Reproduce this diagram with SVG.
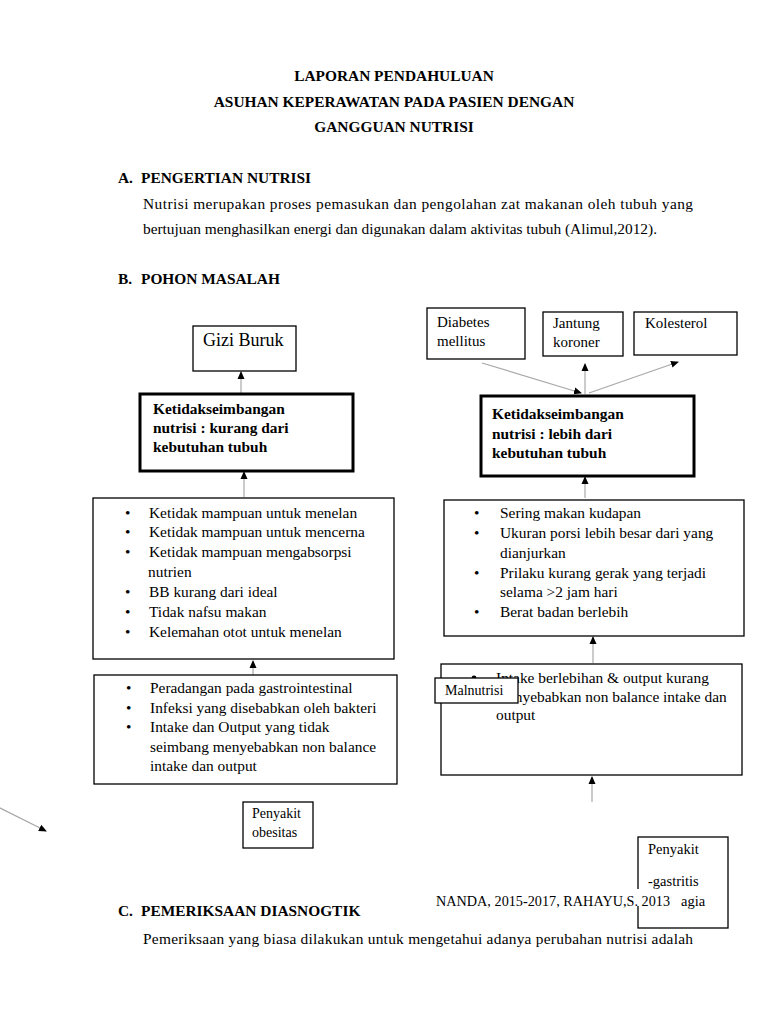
<svg xmlns="http://www.w3.org/2000/svg" width="768" height="1024" viewBox="0 0 768 1024">
<style>
.t{font-family:"Liberation Serif","Times New Roman",serif;font-size:15.4px;fill:#000}
.b{font-weight:bold}
.box{fill:#fff;stroke:#000;stroke-width:1.3}
.thick{fill:#fff;stroke:#000;stroke-width:3}
.conn{stroke:#a8a8a8;stroke-width:1.2;fill:none;marker-end:url(#ah)}
</style>
<defs>
<marker id="ah" markerWidth="8" markerHeight="8" refX="7" refY="4" orient="auto" markerUnits="userSpaceOnUse"><path d="M0,0.5 L8,4 L0,7.5 z" fill="#000"/></marker>
</defs>
<rect width="768" height="1024" fill="#fff"/>

<g id="header">
<text class="t b" x="394" y="81" text-anchor="middle">LAPORAN PENDAHULUAN</text>
<text class="t b" x="394" y="107" text-anchor="middle">ASUHAN KEPERAWATAN PADA PASIEN DENGAN</text>
<text class="t b" x="394" y="132" text-anchor="middle">GANGGUAN NUTRISI</text>
</g>

<g id="section-a">
<text class="t b" x="118" y="183">A.</text>
<text class="t b" x="141" y="183">PENGERTIAN NUTRISI</text>
<text class="t" x="143" y="209" textLength="550" lengthAdjust="spacing">Nutrisi merupakan proses pemasukan dan pengolahan zat makanan oleh tubuh yang</text>
<text class="t" x="143" y="234" textLength="514" lengthAdjust="spacing">bertujuan menghasilkan energi dan digunakan dalam aktivitas tubuh (Alimul,2012).</text>
</g>

<g id="section-b">
<text class="t b" x="118" y="284">B.</text>
<text class="t b" x="141" y="284">POHON MASALAH</text>
</g>

<g id="connectors">
<line class="conn" x1="241" y1="393" x2="241" y2="372"/>
<line class="conn" x1="244" y1="497" x2="244" y2="472"/>
<line class="conn" x1="253" y1="675" x2="253" y2="661"/>
<line class="conn" x1="482" y1="363" x2="581" y2="393"/>
<line class="conn" x1="585" y1="394" x2="585" y2="364"/>
<line class="conn" x1="589" y1="393" x2="678" y2="362"/>
<line class="conn" x1="585" y1="498" x2="585" y2="477"/>
<line class="conn" x1="593" y1="663" x2="593" y2="637"/>
<line class="conn" x1="592" y1="802" x2="592" y2="777"/>
<line class="conn" x1="-2" y1="807" x2="46" y2="831"/>
</g>

<g id="gizi-buruk">
<rect class="box" x="193" y="326" width="103" height="45"/>
<text class="t" x="203" y="346" style="font-size:18px">Gizi Buruk</text>
</g>

<g id="ketidak-kurang">
<rect class="thick" x="140" y="394" width="213" height="77"/>
<text class="t b" x="153" y="414">Ketidakseimbangan</text>
<text class="t b" x="153" y="433">nutrisi : kurang dari</text>
<text class="t b" x="153" y="452">kebutuhan tubuh</text>
</g>

<g id="gejala-kurang">
<rect class="box" x="93" y="498" width="301" height="161"/>
<text class="t" x="125" y="518">•</text><text class="t" x="149" y="518">Ketidak mampuan untuk menelan</text>
<text class="t" x="125" y="537">•</text><text class="t" x="149" y="537">Ketidak mampuan untuk mencerna</text>
<text class="t" x="125" y="557">•</text><text class="t" x="149" y="557">Ketidak mampuan mengabsorpsi</text>
<text class="t" x="148" y="577">nutrien</text>
<text class="t" x="125" y="597">•</text><text class="t" x="149" y="597">BB kurang dari ideal</text>
<text class="t" x="125" y="617">•</text><text class="t" x="149" y="617">Tidak nafsu makan</text>
<text class="t" x="125" y="637">•</text><text class="t" x="149" y="637">Kelemahan otot untuk menelan</text>
</g>

<g id="etiologi-kurang">
<rect class="box" x="94" y="675" width="303" height="109"/>
<text class="t" x="126" y="693">•</text><text class="t" x="150" y="693">Peradangan pada gastrointestinal</text>
<text class="t" x="126" y="713">•</text><text class="t" x="150" y="713">Infeksi yang disebabkan oleh bakteri</text>
<text class="t" x="126" y="732">•</text><text class="t" x="150" y="732">Intake dan Output yang tidak</text>
<text class="t" x="150" y="752">seimbang menyebabkan non balance</text>
<text class="t" x="150" y="771">intake dan output</text>
</g>

<g id="penyakit-obesitas">
<rect class="box" x="243" y="802" width="70" height="46"/>
<text class="t" x="252" y="818" style="font-size:14px">Penyakit</text>
<text class="t" x="252" y="837" style="font-size:14px">obesitas</text>
</g>

<g id="diabetes">
<rect class="box" x="427" y="308" width="98" height="51"/>
<text class="t" x="437" y="327" style="font-size:15px">Diabetes</text>
<text class="t" x="437" y="346" style="font-size:15px">mellitus</text>
</g>

<g id="jantung">
<rect class="box" x="543" y="312" width="80" height="44"/>
<text class="t" x="553" y="328" style="font-size:15px">Jantung</text>
<text class="t" x="553" y="347" style="font-size:15px">koroner</text>
</g>

<g id="kolesterol">
<rect class="box" x="634" y="312" width="103" height="43"/>
<text class="t" x="645" y="328" style="font-size:15px">Kolesterol</text>
</g>

<g id="ketidak-lebih">
<rect class="thick" x="481" y="396" width="213" height="80"/>
<text class="t b" x="492" y="419">Ketidakseimbangan</text>
<text class="t b" x="492" y="439">nutrisi : lebih dari</text>
<text class="t b" x="492" y="458">kebutuhan tubuh</text>
</g>

<g id="gejala-lebih">
<rect class="box" x="444" y="500" width="300" height="136"/>
<text class="t" x="474" y="518">•</text><text class="t" x="500" y="518">Sering makan kudapan</text>
<text class="t" x="474" y="538">•</text><text class="t" x="500" y="538">Ukuran porsi lebih besar dari yang</text>
<text class="t" x="500" y="558">dianjurkan</text>
<text class="t" x="474" y="578">•</text><text class="t" x="500" y="578">Prilaku kurang gerak yang terjadi</text>
<text class="t" x="500" y="597">selama &gt;2 jam hari</text>
<text class="t" x="474" y="617">•</text><text class="t" x="500" y="617">Berat badan berlebih</text>
</g>

<g id="etiologi-lebih">
<rect class="box" x="441" y="664" width="301" height="111"/>
<circle cx="474" cy="678" r="2.4" fill="#000"/>
<text class="t" x="496" y="683">Intake berlebihan &amp; output kurang</text>
<text class="t" x="496" y="702">menyebabkan non balance intake dan</text>
<text class="t" x="496" y="720">output</text>
</g>

<g id="malnutrisi">
<rect class="box" x="435" y="678" width="83" height="25"/>
<text class="t" x="445" y="695" style="font-size:14px">Malnutrisi</text>
</g>

<g id="penyakit-gastritis">
<rect class="box" x="638" y="837" width="90" height="91"/>
<text class="t" x="648" y="854" style="font-size:14.5px">Penyakit</text>
<text class="t" x="648" y="886" style="font-size:14.5px">-gastritis</text>
</g>

<g id="referensi">
<rect x="432" y="889" width="243" height="17" fill="#fff"/>
<text class="t" x="436" y="906" style="font-size:14.2px" textLength="234" lengthAdjust="spacing">NANDA, 2015-2017, RAHAYU,S. 2013</text>
<text class="t" x="681" y="906" style="font-size:14.5px">agia</text>
</g>

<g id="section-c">
<text class="t b" x="118" y="916">C.</text>
<text class="t b" x="141" y="916">PEMERIKSAAN DIASNOGTIK</text>
<text class="t" x="143" y="944" textLength="550" lengthAdjust="spacing">Pemeriksaan yang biasa dilakukan untuk mengetahui adanya perubahan nutrisi adalah</text>
</g>
</svg>
